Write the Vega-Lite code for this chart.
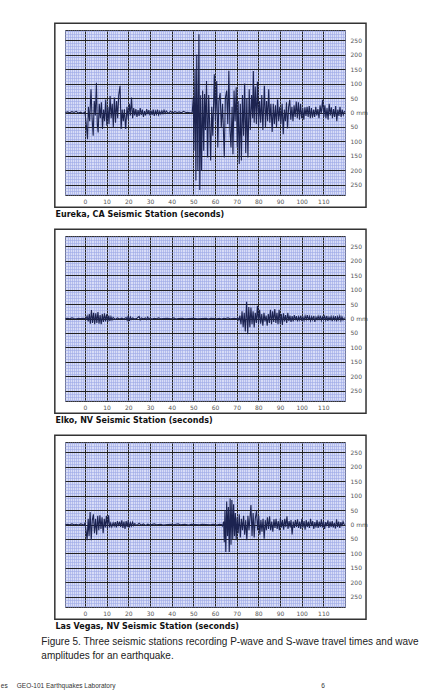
{
"$schema": "https://vega.github.io/schema/vega-lite/v6.json",
"padding": {"left": 0, "top": 22, "right": 0, "bottom": 5},
"config": {"view": {"fill": "#d8ddf7", "stroke": "#333", "strokeWidth": 1}},
"title": {"text": "es\u00a0\u00a0\u00a0\u00a0\u00a0GEO-101 Earthquakes Laboratory\u00a0\u00a0\u00a0\u00a0\u00a0\u00a0\u00a0\u00a0\u00a0\u00a0\u00a0\u00a0\u00a0\u00a0\u00a0\u00a0\u00a0\u00a0\u00a0\u00a0\u00a0\u00a0\u00a0\u00a0\u00a0\u00a0\u00a0\u00a0\u00a0\u00a0\u00a0\u00a0\u00a0\u00a0\u00a0\u00a0\u00a0\u00a0\u00a0\u00a0\u00a0\u00a0\u00a0\u00a0\u00a0\u00a0\u00a0\u00a0\u00a0\u00a0\u00a0\u00a0\u00a0\u00a0\u00a0\u00a0\u00a0\u00a0\u00a0\u00a0\u00a0\u00a0\u00a0\u00a0\u00a0\u00a0\u00a0\u00a0\u00a0\u00a0\u00a0\u00a0\u00a0\u00a0\u00a0\u00a0\u00a0\u00a0\u00a0\u00a0\u00a0\u00a0\u00a0\u00a0\u00a0\u00a0\u00a0\u00a0\u00a0\u00a0\u00a0\u00a0\u00a0\u00a0\u00a0\u00a0\u00a0\u00a0\u00a0\u00a0\u00a0\u00a0\u00a0\u00a0\u00a0\u00a0\u00a0\u00a0\u00a0\u00a0\u00a0\u00a0\u00a0\u00a06", "orient": "bottom", "anchor": "start", "dx": -40, "offset": 21, "fontSize": 6.5, "fontWeight": "normal", "font": "Liberation Sans", "color": "#333"},
"datasets": {
"eureka": [{"t":-9,"v":0},{"t":-8,"v":2},{"t":-7,"v":-1},{"t":-6,"v":3},{"t":-5,"v":0},{"t":-4,"v":4},{"t":-3,"v":-2},{"t":-2,"v":1},{"t":-1,"v":-3},{"t":0,"v":2},{"t":0.6,"v":-40},{"t":1.2,"v":-92},{"t":1.6,"v":20},{"t":2.2,"v":-30},{"t":2.8,"v":80},{"t":3.3,"v":-20},{"t":3.8,"v":-80},{"t":4.3,"v":40},{"t":4.8,"v":-10},{"t":5.3,"v":103},{"t":5.7,"v":-40},{"t":6.1,"v":-69},{"t":6.6,"v":30},{"t":7.1,"v":-20},{"t":7.6,"v":35},{"t":8.1,"v":-57},{"t":8.6,"v":10},{"t":9.1,"v":-30},{"t":9.6,"v":45},{"t":10.1,"v":-46},{"t":10.6,"v":20},{"t":11.1,"v":-40},{"t":11.6,"v":57},{"t":12.1,"v":-20},{"t":12.6,"v":30},{"t":13.1,"v":-50},{"t":13.6,"v":52},{"t":14.1,"v":-35},{"t":14.6,"v":40},{"t":15.1,"v":-20},{"t":15.6,"v":60},{"t":16.2,"v":92},{"t":16.7,"v":-57},{"t":17.2,"v":10},{"t":17.7,"v":-30},{"t":18.2,"v":11},{"t":18.8,"v":-57},{"t":19.4,"v":20},{"t":20,"v":-25},{"t":20.5,"v":30},{"t":21,"v":-10},{"t":21.5,"v":52},{"t":22,"v":-20},{"t":22.5,"v":15},{"t":23,"v":-10},{"t":23.5,"v":12},{"t":24,"v":-15},{"t":24.5,"v":8},{"t":25,"v":-12},{"t":25.5,"v":15},{"t":26,"v":-8},{"t":26.5,"v":10},{"t":27,"v":-15},{"t":27.5,"v":5},{"t":28,"v":-10},{"t":28.5,"v":12},{"t":29,"v":-6},{"t":29.5,"v":8},{"t":30,"v":-10},{"t":30.5,"v":6},{"t":31,"v":-8},{"t":31.5,"v":10},{"t":32,"v":-12},{"t":32.5,"v":5},{"t":33,"v":-6},{"t":33.5,"v":10},{"t":34,"v":-8},{"t":34.5,"v":4},{"t":35,"v":-5},{"t":35.5,"v":6},{"t":36,"v":-4},{"t":36.5,"v":8},{"t":37,"v":-3},{"t":37.5,"v":5},{"t":38.5,"v":-3},{"t":39.5,"v":4},{"t":40.5,"v":-2},{"t":41.5,"v":3},{"t":42.5,"v":0},{"t":43.5,"v":2},{"t":44.5,"v":-1},{"t":45.5,"v":4},{"t":46.5,"v":0},{"t":47.5,"v":1},{"t":48.5,"v":-1},{"t":49.5,"v":0},{"t":50,"v":52},{"t":50.3,"v":-132},{"t":50.8,"v":150},{"t":51.2,"v":-235},{"t":51.6,"v":200},{"t":52.1,"v":-200},{"t":52.6,"v":270},{"t":53,"v":-268},{"t":53.4,"v":60},{"t":53.8,"v":-201},{"t":54.3,"v":76},{"t":54.8,"v":-132},{"t":55.2,"v":64},{"t":55.6,"v":-60},{"t":56.1,"v":109},{"t":56.6,"v":-155},{"t":57.1,"v":60},{"t":57.6,"v":-50},{"t":58,"v":-166},{"t":58.5,"v":20},{"t":59,"v":-80},{"t":59.7,"v":132},{"t":60.2,"v":-30},{"t":60.8,"v":109},{"t":61.3,"v":-121},{"t":61.8,"v":40},{"t":62.4,"v":67},{"t":62.9,"v":-53},{"t":63.5,"v":30},{"t":64.3,"v":-155},{"t":64.8,"v":50},{"t":65.4,"v":76},{"t":65.9,"v":-40},{"t":66.4,"v":144},{"t":66.9,"v":-60},{"t":67.4,"v":-121},{"t":67.9,"v":20},{"t":68.3,"v":-144},{"t":68.8,"v":76},{"t":69.3,"v":-30},{"t":69.8,"v":87},{"t":70.3,"v":-121},{"t":70.7,"v":40},{"t":71.2,"v":-178},{"t":71.7,"v":30},{"t":72.2,"v":-166},{"t":72.7,"v":60},{"t":73.2,"v":-80},{"t":73.7,"v":100},{"t":74.2,"v":-140},{"t":74.7,"v":50},{"t":75.2,"v":-155},{"t":75.8,"v":80},{"t":76.3,"v":-60},{"t":76.9,"v":60},{"t":77.4,"v":-20},{"t":77.7,"v":143},{"t":78.1,"v":-35},{"t":78.6,"v":90},{"t":79.1,"v":-40},{"t":79.6,"v":106},{"t":80.1,"v":-50},{"t":80.6,"v":40},{"t":81.1,"v":-35},{"t":81.6,"v":60},{"t":82.1,"v":-60},{"t":82.8,"v":92},{"t":83.3,"v":-52},{"t":83.8,"v":40},{"t":84.3,"v":-30},{"t":84.8,"v":80},{"t":85.3,"v":-35},{"t":85.8,"v":30},{"t":86.4,"v":-67},{"t":86.9,"v":30},{"t":87.4,"v":-40},{"t":87.9,"v":25},{"t":88.4,"v":-50},{"t":88.9,"v":45},{"t":89.4,"v":-30},{"t":89.9,"v":20},{"t":90.4,"v":-40},{"t":91,"v":30},{"t":91.5,"v":-75},{"t":92,"v":10},{"t":92.5,"v":-30},{"t":93,"v":35},{"t":93.5,"v":-55},{"t":94,"v":20},{"t":94.5,"v":44},{"t":95,"v":-25},{"t":95.5,"v":20},{"t":96,"v":-30},{"t":96.5,"v":25},{"t":97,"v":-15},{"t":97.5,"v":38},{"t":98,"v":-20},{"t":98.5,"v":35},{"t":99,"v":-25},{"t":99.5,"v":30},{"t":100,"v":-20},{"t":100.5,"v":15},{"t":101,"v":-25},{"t":101.5,"v":18},{"t":102,"v":-12},{"t":102.5,"v":20},{"t":103,"v":-15},{"t":103.5,"v":22},{"t":104,"v":-20},{"t":104.5,"v":15},{"t":105,"v":-18},{"t":105.5,"v":10},{"t":106,"v":-15},{"t":106.5,"v":20},{"t":107,"v":-10},{"t":107.5,"v":12},{"t":108,"v":-20},{"t":108.5,"v":25},{"t":109,"v":-5},{"t":109.7,"v":44},{"t":110.2,"v":-15},{"t":110.7,"v":25},{"t":111.2,"v":-20},{"t":111.7,"v":15},{"t":112.2,"v":-25},{"t":112.7,"v":30},{"t":113.2,"v":-10},{"t":113.7,"v":18},{"t":114.2,"v":-20},{"t":114.7,"v":12},{"t":115.2,"v":-15},{"t":115.7,"v":22},{"t":116.2,"v":-30},{"t":116.7,"v":10},{"t":117.2,"v":-12},{"t":117.7,"v":20},{"t":118.2,"v":-15},{"t":118.7,"v":10},{"t":119.2,"v":-8},{"t":119.8,"v":5}],
"elko": [{"t":-9,"v":0},{"t":-8,"v":1},{"t":-7,"v":-1},{"t":-6,"v":2},{"t":-5,"v":0},{"t":-4,"v":-1},{"t":-3,"v":1},{"t":-2,"v":0},{"t":-1,"v":1},{"t":0,"v":0},{"t":0.5,"v":-3},{"t":1,"v":8},{"t":1.5,"v":-10},{"t":2,"v":15},{"t":2.5,"v":-18},{"t":3,"v":29},{"t":3.5,"v":-15},{"t":4,"v":20},{"t":4.5,"v":-20},{"t":5,"v":18},{"t":5.5,"v":-15},{"t":6,"v":22},{"t":6.5,"v":-18},{"t":7,"v":12},{"t":7.5,"v":-20},{"t":8,"v":15},{"t":8.5,"v":-12},{"t":9,"v":18},{"t":9.5,"v":-10},{"t":10,"v":14},{"t":10.5,"v":-12},{"t":11,"v":10},{"t":11.5,"v":-8},{"t":12,"v":6},{"t":12.5,"v":-5},{"t":13,"v":4},{"t":14,"v":-3},{"t":15,"v":2},{"t":16,"v":-2},{"t":17,"v":1},{"t":18,"v":-2},{"t":19,"v":3},{"t":19.5,"v":-6},{"t":20,"v":10},{"t":20.5,"v":-8},{"t":21,"v":5},{"t":21.5,"v":-3},{"t":22,"v":2},{"t":23,"v":-2},{"t":24,"v":1},{"t":25,"v":7},{"t":25.5,"v":-5},{"t":26,"v":2},{"t":27,"v":-1},{"t":28,"v":2},{"t":28.5,"v":-4},{"t":29,"v":5},{"t":29.5,"v":-3},{"t":30,"v":1},{"t":31,"v":-2},{"t":32,"v":1},{"t":33,"v":-1},{"t":34,"v":2},{"t":35,"v":-1},{"t":36,"v":0},{"t":38,"v":1},{"t":40,"v":-1},{"t":41,"v":2},{"t":42,"v":-2},{"t":43,"v":0},{"t":45,"v":1},{"t":46,"v":-1},{"t":48,"v":0},{"t":50,"v":1},{"t":52,"v":-1},{"t":54,"v":0},{"t":56,"v":1},{"t":57,"v":-2},{"t":58,"v":1},{"t":60,"v":0},{"t":61,"v":-1},{"t":62,"v":1},{"t":63,"v":-2},{"t":64,"v":1},{"t":65,"v":0},{"t":66,"v":2},{"t":67,"v":-1},{"t":68,"v":0},{"t":69,"v":1},{"t":70,"v":-1},{"t":70.5,"v":2},{"t":71,"v":-5},{"t":71.5,"v":10},{"t":72,"v":-20},{"t":72.5,"v":25},{"t":73,"v":-30},{"t":73.5,"v":20},{"t":74,"v":-45},{"t":74.6,"v":58},{"t":75.1,"v":-54},{"t":75.6,"v":40},{"t":76.1,"v":-30},{"t":76.6,"v":38},{"t":77.1,"v":-20},{"t":77.6,"v":25},{"t":78.1,"v":-31},{"t":78.6,"v":20},{"t":79.1,"v":-15},{"t":79.6,"v":44},{"t":80.1,"v":-20},{"t":80.6,"v":30},{"t":81.1,"v":-18},{"t":81.6,"v":15},{"t":82.1,"v":-25},{"t":82.6,"v":20},{"t":83.1,"v":-10},{"t":83.6,"v":10},{"t":84.1,"v":-25},{"t":84.6,"v":15},{"t":85.1,"v":-15},{"t":85.6,"v":30},{"t":86.1,"v":-20},{"t":86.6,"v":25},{"t":87.1,"v":-12},{"t":87.6,"v":33},{"t":88.1,"v":-15},{"t":88.6,"v":20},{"t":89.1,"v":-20},{"t":89.6,"v":30},{"t":90.1,"v":-18},{"t":90.6,"v":15},{"t":91.1,"v":-22},{"t":91.6,"v":18},{"t":92.1,"v":-10},{"t":92.6,"v":12},{"t":93.1,"v":-15},{"t":93.6,"v":20},{"t":94.1,"v":-8},{"t":94.6,"v":10},{"t":95.1,"v":-12},{"t":95.6,"v":8},{"t":96.1,"v":-10},{"t":96.6,"v":12},{"t":97.1,"v":-6},{"t":97.6,"v":8},{"t":98.1,"v":-10},{"t":98.6,"v":6},{"t":99.1,"v":-5},{"t":99.6,"v":10},{"t":100.1,"v":-8},{"t":100.6,"v":5},{"t":101.1,"v":-7},{"t":101.6,"v":9},{"t":102.1,"v":-4},{"t":102.6,"v":12},{"t":103.1,"v":-6},{"t":103.6,"v":7},{"t":104.1,"v":-8},{"t":104.6,"v":6},{"t":105.1,"v":-5},{"t":105.6,"v":9},{"t":106.1,"v":-12},{"t":106.6,"v":5},{"t":107.1,"v":-4},{"t":107.6,"v":8},{"t":108.1,"v":-6},{"t":108.6,"v":10},{"t":109.1,"v":-7},{"t":109.6,"v":5},{"t":110.1,"v":-5},{"t":110.6,"v":8},{"t":111.1,"v":-6},{"t":111.6,"v":9},{"t":112.1,"v":-8},{"t":112.6,"v":5},{"t":113.1,"v":-4},{"t":113.6,"v":7},{"t":114.1,"v":-9},{"t":114.6,"v":6},{"t":115.1,"v":-5},{"t":115.6,"v":8},{"t":116.1,"v":-10},{"t":116.6,"v":6},{"t":117.1,"v":-4},{"t":117.6,"v":9},{"t":118.1,"v":-7},{"t":118.6,"v":6},{"t":119.1,"v":-5},{"t":119.8,"v":3}],
"vegas": [{"t":-9,"v":0},{"t":-8,"v":1},{"t":-7,"v":-1},{"t":-6,"v":2},{"t":-5,"v":-1},{"t":-4,"v":1},{"t":-3,"v":-2},{"t":-2,"v":2},{"t":-1,"v":0},{"t":-0.5,"v":-3},{"t":0,"v":5},{"t":0.5,"v":-20},{"t":1,"v":-54},{"t":1.5,"v":20},{"t":1.9,"v":-40},{"t":2.4,"v":43},{"t":2.9,"v":-54},{"t":3.4,"v":15},{"t":3.9,"v":35},{"t":4.4,"v":-30},{"t":4.9,"v":20},{"t":5.4,"v":-35},{"t":5.9,"v":30},{"t":6.4,"v":-20},{"t":6.9,"v":32},{"t":7.4,"v":-15},{"t":7.9,"v":25},{"t":8.4,"v":-30},{"t":8.9,"v":20},{"t":9.4,"v":-10},{"t":9.9,"v":30},{"t":10.4,"v":-15},{"t":10.9,"v":32},{"t":11.4,"v":-10},{"t":11.9,"v":5},{"t":12.4,"v":-8},{"t":13,"v":6},{"t":13.5,"v":-5},{"t":14,"v":8},{"t":14.5,"v":-10},{"t":15,"v":12},{"t":15.5,"v":-6},{"t":16,"v":10},{"t":16.5,"v":-8},{"t":17,"v":14},{"t":17.5,"v":-12},{"t":18,"v":10},{"t":18.5,"v":-15},{"t":19,"v":12},{"t":19.5,"v":-8},{"t":20,"v":15},{"t":20.5,"v":-10},{"t":21,"v":6},{"t":21.5,"v":-5},{"t":22,"v":8},{"t":22.5,"v":-4},{"t":23,"v":3},{"t":24,"v":-3},{"t":25,"v":4},{"t":26,"v":-2},{"t":27,"v":2},{"t":28,"v":-3},{"t":29,"v":1},{"t":30,"v":-2},{"t":32,"v":2},{"t":33,"v":-1},{"t":35,"v":1},{"t":36,"v":-2},{"t":38,"v":0},{"t":40,"v":1},{"t":41,"v":-1},{"t":43,"v":2},{"t":44,"v":-1},{"t":46,"v":1},{"t":48,"v":-2},{"t":49,"v":1},{"t":51,"v":0},{"t":53,"v":-1},{"t":54,"v":1},{"t":56,"v":0},{"t":58,"v":-1},{"t":59,"v":1},{"t":60,"v":0},{"t":61,"v":-2},{"t":62,"v":1},{"t":63,"v":0},{"t":63.5,"v":-5},{"t":64,"v":10},{"t":64.3,"v":-61},{"t":64.6,"v":50},{"t":65,"v":-95},{"t":65.4,"v":79},{"t":65.8,"v":-40},{"t":66.2,"v":60},{"t":66.6,"v":-95},{"t":67,"v":90},{"t":67.4,"v":-70},{"t":67.8,"v":85},{"t":68.2,"v":-50},{"t":68.6,"v":70},{"t":69,"v":-40},{"t":69.4,"v":40},{"t":69.8,"v":-54},{"t":70.2,"v":25},{"t":70.7,"v":-30},{"t":71.2,"v":35},{"t":71.7,"v":-45},{"t":72.2,"v":20},{"t":72.7,"v":-20},{"t":73.2,"v":30},{"t":73.7,"v":-35},{"t":74.2,"v":15},{"t":74.7,"v":-54},{"t":75.2,"v":30},{"t":75.7,"v":-20},{"t":76.6,"v":67},{"t":77.1,"v":-40},{"t":77.6,"v":40},{"t":78.1,"v":-45},{"t":78.6,"v":20},{"t":79.2,"v":49},{"t":79.7,"v":-20},{"t":80.2,"v":30},{"t":80.7,"v":-35},{"t":81.2,"v":15},{"t":81.7,"v":-25},{"t":82.2,"v":20},{"t":82.7,"v":-49},{"t":83.2,"v":15},{"t":83.7,"v":-20},{"t":84.2,"v":25},{"t":84.7,"v":-15},{"t":85.2,"v":28},{"t":85.7,"v":-20},{"t":86.2,"v":10},{"t":86.7,"v":-25},{"t":87.2,"v":18},{"t":87.7,"v":-12},{"t":88.2,"v":20},{"t":88.7,"v":-15},{"t":89.2,"v":12},{"t":89.7,"v":-20},{"t":90.2,"v":22},{"t":90.7,"v":-10},{"t":91.2,"v":15},{"t":91.7,"v":-18},{"t":92.2,"v":20},{"t":92.7,"v":-8},{"t":93.2,"v":28},{"t":93.7,"v":-15},{"t":94.2,"v":12},{"t":94.7,"v":-10},{"t":95.1,"v":15},{"t":95.6,"v":-34},{"t":96.1,"v":10},{"t":96.6,"v":-12},{"t":97.1,"v":15},{"t":97.6,"v":-8},{"t":98.1,"v":18},{"t":98.6,"v":-12},{"t":99.1,"v":10},{"t":99.6,"v":-15},{"t":100.1,"v":20},{"t":100.6,"v":-10},{"t":101.1,"v":12},{"t":101.6,"v":-18},{"t":102.1,"v":15},{"t":102.6,"v":-8},{"t":103.1,"v":10},{"t":103.6,"v":-12},{"t":104.1,"v":20},{"t":104.6,"v":-6},{"t":105.1,"v":12},{"t":105.6,"v":-15},{"t":106.1,"v":8},{"t":106.6,"v":-10},{"t":107.1,"v":15},{"t":107.6,"v":-12},{"t":108.1,"v":10},{"t":108.6,"v":-8},{"t":109.1,"v":18},{"t":109.6,"v":-10},{"t":110.1,"v":12},{"t":110.6,"v":-15},{"t":111.1,"v":8},{"t":111.6,"v":-6},{"t":112.1,"v":14},{"t":112.6,"v":-12},{"t":113.1,"v":10},{"t":113.6,"v":-8},{"t":114.1,"v":12},{"t":114.6,"v":-10},{"t":115.1,"v":6},{"t":115.6,"v":-14},{"t":116.1,"v":18},{"t":116.6,"v":-8},{"t":117.1,"v":10},{"t":117.6,"v":-12},{"t":118.1,"v":8},{"t":118.6,"v":-6},{"t":119.1,"v":10},{"t":119.8,"v":-3}]
},
"vconcat": [
{"width": 280, "height": 165,
 "layer": [
  {"data": {"values": [{}]},
   "mark": {"type": "rect", "fill": null, "stroke": "#333", "strokeWidth": 1.5},
   "encoding": {
    "x": {"datum": -13.9, "type": "quantitative", "scale": {"domain": [-9.2, 120], "nice": false, "zero": false}, "axis": {"orient": "top", "tickCount": 130, "grid": true, "gridColor": "#9eaae6", "gridWidth": 0.6, "labels": false, "ticks": false, "domain": false, "title": null}},
    "x2": {"datum": 129.7},
    "y": {"datum": 308, "type": "quantitative", "scale": {"domain": [-285, 285], "nice": false, "zero": false}, "axis": {"orient": "left", "tickCount": 57, "grid": true, "gridColor": "#9eaae6", "gridWidth": 0.6, "labels": false, "ticks": false, "domain": false, "title": null}},
    "y2": {"datum": -327}}},
  {"data": {"name": "eureka"},
   "mark": {"type": "line", "color": "#1c2350", "strokeWidth": 1.1},
   "encoding": {
    "x": {"field": "t", "type": "quantitative", "axis": {"orient": "bottom", "values": [0,10,20,30,40,50,60,70,80,90,100,110], "grid": true, "gridColor": "#222", "gridWidth": 1, "tickSize": 0, "domain": false, "labelFont": "DejaVu Sans", "labelFontSize": 6, "labelColor": "#555", "labelPadding": 3, "title": "Eureka, CA Seismic Station (seconds)", "titleFont": "DejaVu Sans", "titleFontWeight": "bold", "titleFontSize": 8, "titleColor": "#111", "titleX": -10, "titleAlign": "left", "titlePadding": 6}},
    "y": {"field": "v", "type": "quantitative", "axis": {"orient": "right", "values": [-250,-200,-150,-100,-50,0,50,100,150,200,250], "grid": true, "gridColor": "#222", "gridWidth": 1, "tickSize": 0, "domain": false, "labelExpr": "datum.value == 0 ? '0 mm' : abs(datum.value)", "labelFont": "DejaVu Sans", "labelFontSize": 6, "labelColor": "#555", "labelPadding": 5, "title": null}}}}
 ],
 "resolve": {"axis": {"x": "independent", "y": "independent"}}
},
{"width": 280, "height": 165,
 "layer": [
  {"data": {"values": [{}]},
   "mark": {"type": "rect", "fill": null, "stroke": "#333", "strokeWidth": 1.5},
   "encoding": {
    "x": {"datum": -13.9, "type": "quantitative", "scale": {"domain": [-9.2, 120], "nice": false, "zero": false}, "axis": {"orient": "top", "tickCount": 130, "grid": true, "gridColor": "#9eaae6", "gridWidth": 0.6, "labels": false, "ticks": false, "domain": false, "title": null}},
    "x2": {"datum": 129.7},
    "y": {"datum": 308, "type": "quantitative", "scale": {"domain": [-285, 285], "nice": false, "zero": false}, "axis": {"orient": "left", "tickCount": 57, "grid": true, "gridColor": "#9eaae6", "gridWidth": 0.6, "labels": false, "ticks": false, "domain": false, "title": null}},
    "y2": {"datum": -327}}},
  {"data": {"name": "elko"},
   "mark": {"type": "line", "color": "#1c2350", "strokeWidth": 1.1},
   "encoding": {
    "x": {"field": "t", "type": "quantitative", "axis": {"orient": "bottom", "values": [0,10,20,30,40,50,60,70,80,90,100,110], "grid": true, "gridColor": "#222", "gridWidth": 1, "tickSize": 0, "domain": false, "labelFont": "DejaVu Sans", "labelFontSize": 6, "labelColor": "#555", "labelPadding": 3, "title": "Elko, NV Seismic Station (seconds)", "titleFont": "DejaVu Sans", "titleFontWeight": "bold", "titleFontSize": 8, "titleColor": "#111", "titleX": -10, "titleAlign": "left", "titlePadding": 6}},
    "y": {"field": "v", "type": "quantitative", "axis": {"orient": "right", "values": [-250,-200,-150,-100,-50,0,50,100,150,200,250], "grid": true, "gridColor": "#222", "gridWidth": 1, "tickSize": 0, "domain": false, "labelExpr": "datum.value == 0 ? '0 mm' : abs(datum.value)", "labelFont": "DejaVu Sans", "labelFontSize": 6, "labelColor": "#555", "labelPadding": 5, "title": null}}}}
 ],
 "resolve": {"axis": {"x": "independent", "y": "independent"}}
},
{"width": 280, "height": 165,
 "title": {"text": ["Figure 5. Three seismic stations recording P-wave and S-wave travel times and wave", "amplitudes for an earthquake."], "orient": "bottom", "anchor": "start", "dx": -12.7, "offset": 7, "fontSize": 10, "font": "Liberation Sans", "fontWeight": "normal", "color": "#222", "lineHeight": 14},
 "layer": [
  {"data": {"values": [{}]},
   "mark": {"type": "rect", "fill": null, "stroke": "#333", "strokeWidth": 1.5},
   "encoding": {
    "x": {"datum": -13.9, "type": "quantitative", "scale": {"domain": [-9.2, 120], "nice": false, "zero": false}, "axis": {"orient": "top", "tickCount": 130, "grid": true, "gridColor": "#9eaae6", "gridWidth": 0.6, "labels": false, "ticks": false, "domain": false, "title": null}},
    "x2": {"datum": 129.7},
    "y": {"datum": 308, "type": "quantitative", "scale": {"domain": [-285, 285], "nice": false, "zero": false}, "axis": {"orient": "left", "tickCount": 57, "grid": true, "gridColor": "#9eaae6", "gridWidth": 0.6, "labels": false, "ticks": false, "domain": false, "title": null}},
    "y2": {"datum": -327}}},
  {"data": {"name": "vegas"},
   "mark": {"type": "line", "color": "#1c2350", "strokeWidth": 1.1},
   "encoding": {
    "x": {"field": "t", "type": "quantitative", "axis": {"orient": "bottom", "values": [0,10,20,30,40,50,60,70,80,90,100,110], "grid": true, "gridColor": "#222", "gridWidth": 1, "tickSize": 0, "domain": false, "labelFont": "DejaVu Sans", "labelFontSize": 6, "labelColor": "#555", "labelPadding": 3, "title": "Las Vegas, NV Seismic Station (seconds)", "titleFont": "DejaVu Sans", "titleFontWeight": "bold", "titleFontSize": 8, "titleColor": "#111", "titleX": -10, "titleAlign": "left", "titlePadding": 6}},
    "y": {"field": "v", "type": "quantitative", "axis": {"orient": "right", "values": [-250,-200,-150,-100,-50,0,50,100,150,200,250], "grid": true, "gridColor": "#222", "gridWidth": 1, "tickSize": 0, "domain": false, "labelExpr": "datum.value == 0 ? '0 mm' : abs(datum.value)", "labelFont": "DejaVu Sans", "labelFontSize": 6, "labelColor": "#555", "labelPadding": 5, "title": null}}}}
 ],
 "resolve": {"axis": {"x": "independent", "y": "independent"}}
}
],
"spacing": 9
}
